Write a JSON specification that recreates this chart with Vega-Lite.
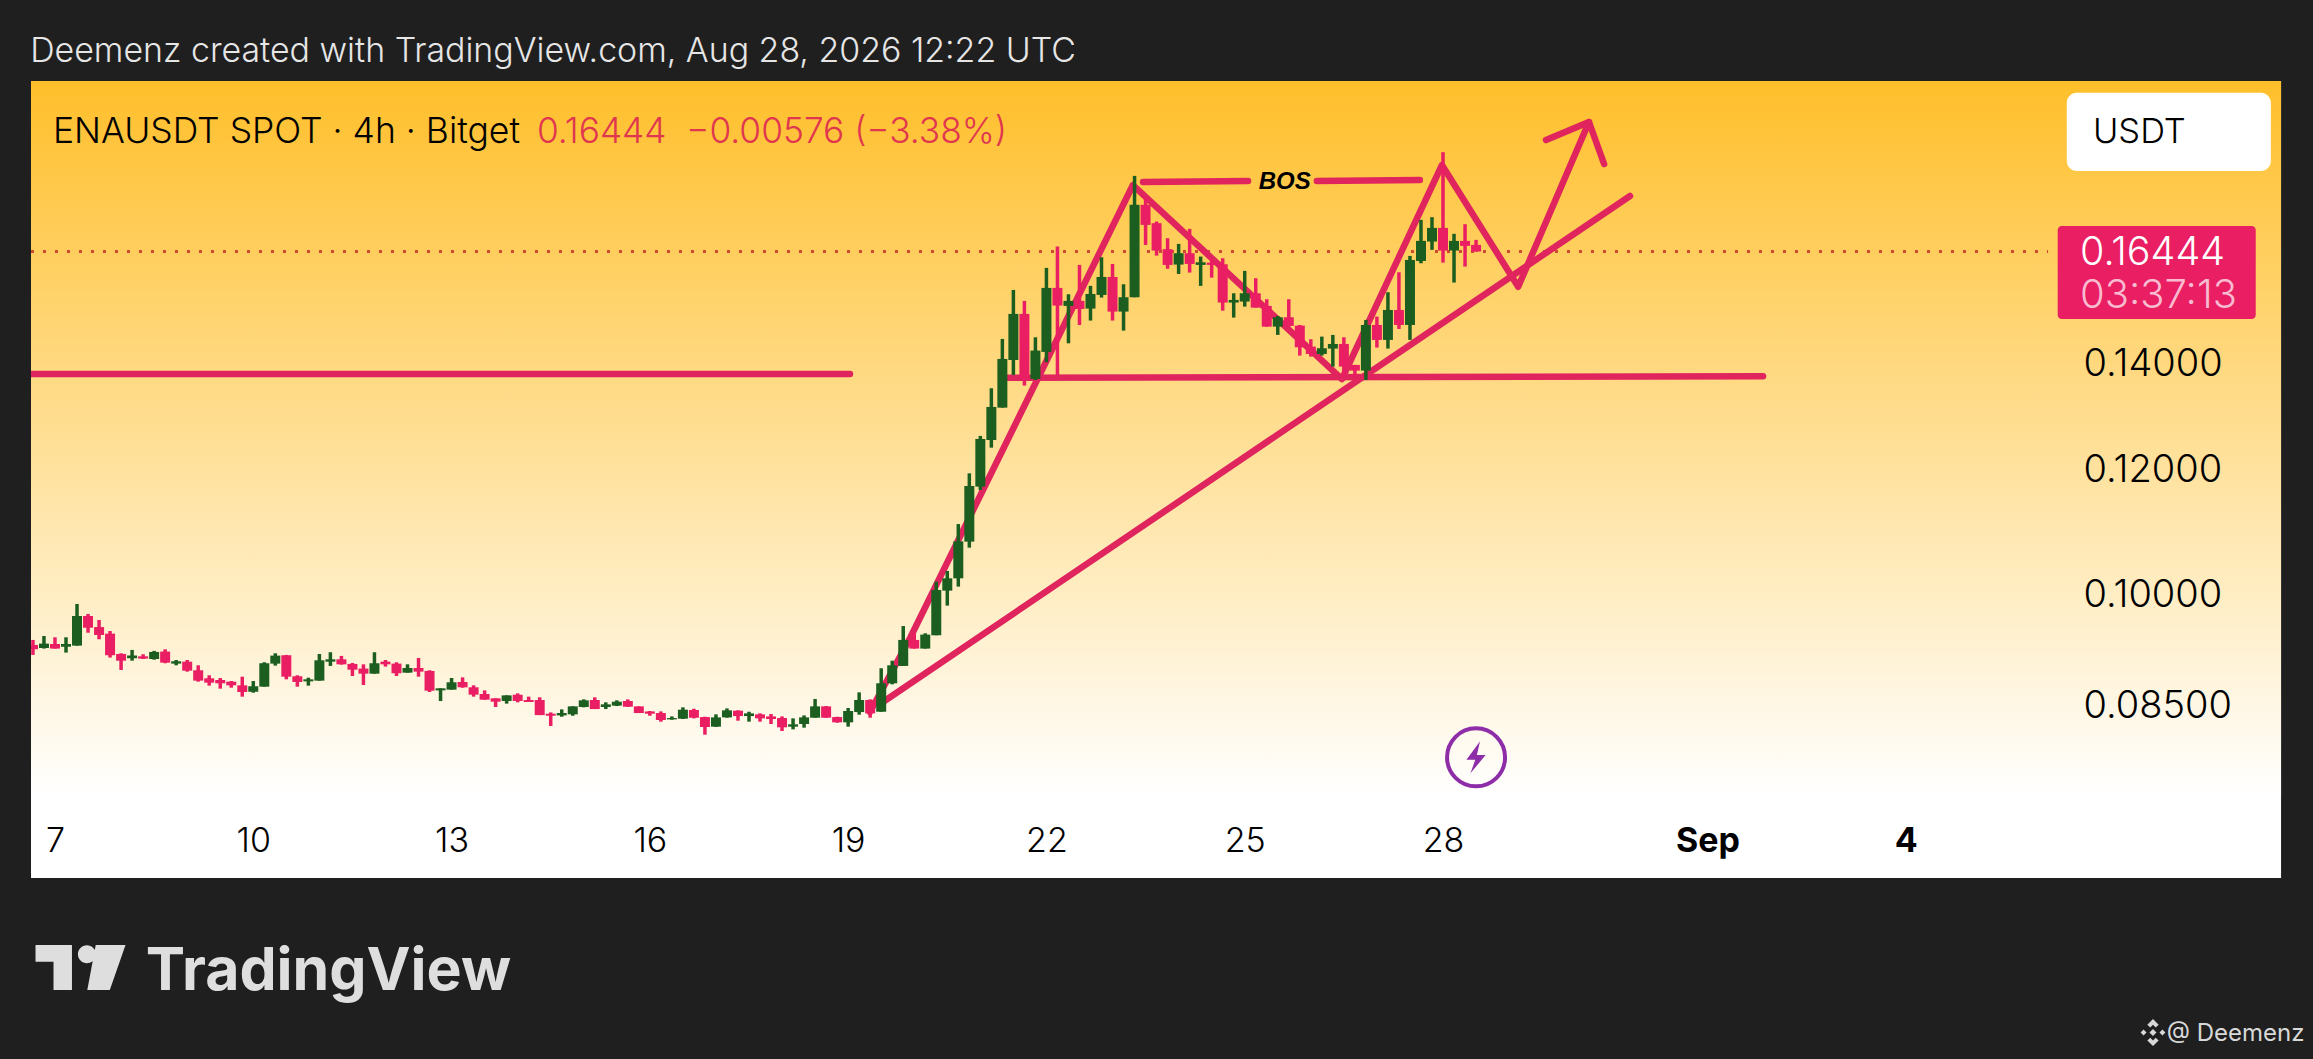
{
  "$schema": "https://vega.github.io/schema/vega-lite/v6.json",
  "width": 2313,
  "height": 1059,
  "padding": 0,
  "autosize": "none",
  "background": "#1f1f1f",
  "config": {"view": {"stroke": null}, "font": "Inter"},
  "datasets": {
    "panels": [
      {"kind": "panel", "time": "2026-08-06T15:17:00Z", "time2": "2026-09-09T16:18:00Z", "price": 0.21089, "price2": 0.06591},
      {"kind": "glow", "time": "2026-08-06T15:17:00Z", "time2": "2026-09-09T16:18:00Z", "price": 0.21089, "price2": 0.07439},
      {"kind": "edge", "time": "2026-08-06T04:00:00Z", "time2": "2026-08-06T15:17:00Z", "price": 0.23737, "price2": 0.05061},
      {"kind": "currency", "time": "2026-09-06T10:30:00Z", "time2": "2026-09-09T12:36:00Z", "price": 0.20733, "price2": 0.18494},
      {"kind": "last", "time": "2026-09-06T07:12:00Z", "time2": "2026-09-09T07:06:00Z", "price": 0.17068, "price2": 0.14901}
    ],
    "gridlines": [
      {"time": "2026-08-07T00:00:00Z"}, {"time": "2026-08-10T00:00:00Z"}, {"time": "2026-08-13T00:00:00Z"},
      {"time": "2026-08-16T00:00:00Z"}, {"time": "2026-08-19T00:00:00Z"}, {"time": "2026-08-22T00:00:00Z"},
      {"time": "2026-08-25T00:00:00Z"}, {"time": "2026-08-28T00:00:00Z"}, {"time": "2026-09-01T00:00:00Z"},
      {"time": "2026-09-04T00:00:00Z"}
    ],
    "lastprice": [{"time": "2026-08-06T15:17:00Z", "time2": "2026-09-06T03:42:00Z", "price": 0.16444}],
    "drawings": [
      {"seg": "resistance", "step": 1, "time": "2026-08-06T15:17:00Z", "price": 0.13753},
      {"seg": "resistance", "step": 2, "time": "2026-08-19T00:40:00Z", "price": 0.13753},
      {"seg": "support", "step": 1, "time": "2026-08-21T09:42:00Z", "price": 0.13678},
      {"seg": "support", "step": 2, "time": "2026-09-01T20:12:00Z", "price": 0.13706},
      {"seg": "trend", "step": 1, "time": "2026-08-19T12:39:00Z", "price": 0.08521},
      {"seg": "trend", "step": 2, "time": "2026-08-30T19:54:00Z", "price": 0.17831},
      {"seg": "path", "step": 1, "time": "2026-08-19T07:54:00Z", "price": 0.08397},
      {"seg": "path", "step": 2, "time": "2026-08-19T22:30:00Z", "price": 0.09355},
      {"seg": "path", "step": 3, "time": "2026-08-21T20:36:00Z", "price": 0.13632},
      {"seg": "path", "step": 4, "time": "2026-08-23T07:24:00Z", "price": 0.1812},
      {"seg": "path", "step": 5, "time": "2026-08-26T11:18:00Z", "price": 0.13652},
      {"seg": "path", "step": 6, "time": "2026-08-27T23:36:00Z", "price": 0.18657},
      {"seg": "path", "step": 7, "time": "2026-08-29T03:18:00Z", "price": 0.15621},
      {"seg": "path", "step": 8, "time": "2026-08-30T05:00:00Z", "price": 0.19865},
      {"seg": "head", "step": 1, "time": "2026-08-29T13:24:00Z", "price": 0.1935},
      {"seg": "head", "step": 2, "time": "2026-08-30T05:00:00Z", "price": 0.19865},
      {"seg": "head", "step": 3, "time": "2026-08-30T10:30:00Z", "price": 0.18684},
      {"seg": "bos1", "step": 1, "time": "2026-08-23T11:06:00Z", "price": 0.18199},
      {"seg": "bos1", "step": 2, "time": "2026-08-25T01:12:00Z", "price": 0.18226},
      {"seg": "bos2", "step": 1, "time": "2026-08-26T02:12:00Z", "price": 0.18226},
      {"seg": "bos2", "step": 2, "time": "2026-08-27T15:36:00Z", "price": 0.18253}
    ],
    "labels": [
      {"kind": "head", "text": "Deemenz created with TradingView.com, Aug 28, 2026 12:22 UTC", "time": "2026-08-06T15:00:00Z", "price": 0.21692},
      {"kind": "symbol", "text": "ENAUSDT SPOT · 4h · Bitget", "time": "2026-08-06T23:15:00Z", "price": 0.19274},
      {"kind": "quote", "text": "0.16444\u00a0 −0.00576 (−3.38%)", "time": "2026-08-14T07:00:00Z", "price": 0.19274},
      {"kind": "bos", "text": "BOS", "time": "2026-08-25T14:30:00Z", "price": 0.18199},
      {"kind": "currency", "text": "USDT", "time": "2026-09-06T20:00:00Z", "price": 0.1954},
      {"kind": "lastprice", "text": "0.16444", "time": "2026-09-06T15:20:00Z", "price": 0.16408},
      {"kind": "countdown", "text": "03:37:13", "time": "2026-09-06T15:20:00Z", "price": 0.154},
      {"kind": "brand", "text": "TradingView", "time": "2026-08-08T09:00:00Z", "price": 0.05597},
      {"kind": "author", "text": "@ Deemenz", "time": "2026-09-10T00:48:00Z", "price": 0.05197}
    ],
    "badges": [
      {"kind": "logo", "time": "2026-08-07T09:16:00Z", "price": 0.05784},
      {"kind": "binance", "time": "2026-09-07T17:48:00Z", "price": 0.0526},
      {"kind": "bolt", "time": "2026-08-28T12:00:00Z", "price": 0.0786}
    ],
    "candles": [
      {"time":"2026-08-06T16:00:00Z","open":0.09261,"high":0.09329,"low":0.09127,"close":0.09203},
      {"time":"2026-08-06T20:00:00Z","open":0.0922,"high":0.09383,"low":0.09212,"close":0.09279},
      {"time":"2026-08-07T00:00:00Z","open":0.09274,"high":0.09365,"low":0.09212,"close":0.09212},
      {"time":"2026-08-07T04:00:00Z","open":0.09238,"high":0.09365,"low":0.09158,"close":0.09274},
      {"time":"2026-08-07T08:00:00Z","open":0.09252,"high":0.09832,"low":0.09252,"close":0.09661},
      {"time":"2026-08-07T12:00:00Z","open":0.09661,"high":0.0969,"low":0.09428,"close":0.09497},
      {"time":"2026-08-07T16:00:00Z","open":0.09506,"high":0.09605,"low":0.09338,"close":0.09397},
      {"time":"2026-08-07T20:00:00Z","open":0.09415,"high":0.09451,"low":0.09092,"close":0.09123},
      {"time":"2026-08-08T00:00:00Z","open":0.0914,"high":0.09149,"low":0.08929,"close":0.09051},
      {"time":"2026-08-08T04:00:00Z","open":0.09082,"high":0.09194,"low":0.09051,"close":0.09118},
      {"time":"2026-08-08T08:00:00Z","open":0.09109,"high":0.09136,"low":0.09073,"close":0.09078},
      {"time":"2026-08-08T12:00:00Z","open":0.09073,"high":0.09181,"low":0.09064,"close":0.09167},
      {"time":"2026-08-08T16:00:00Z","open":0.09172,"high":0.09203,"low":0.09017,"close":0.09025},
      {"time":"2026-08-08T20:00:00Z","open":0.09012,"high":0.0906,"low":0.0899,"close":0.09043},
      {"time":"2026-08-09T00:00:00Z","open":0.09038,"high":0.0906,"low":0.08907,"close":0.0892},
      {"time":"2026-08-09T04:00:00Z","open":0.08925,"high":0.0899,"low":0.08778,"close":0.08791},
      {"time":"2026-08-09T08:00:00Z","open":0.08821,"high":0.0886,"low":0.08727,"close":0.08765},
      {"time":"2026-08-09T12:00:00Z","open":0.08799,"high":0.08825,"low":0.08689,"close":0.08757},
      {"time":"2026-08-09T16:00:00Z","open":0.08778,"high":0.08786,"low":0.08701,"close":0.08731},
      {"time":"2026-08-09T20:00:00Z","open":0.08731,"high":0.08842,"low":0.08588,"close":0.08646},
      {"time":"2026-08-10T00:00:00Z","open":0.0865,"high":0.08786,"low":0.08638,"close":0.08718},
      {"time":"2026-08-10T04:00:00Z","open":0.08714,"high":0.0903,"low":0.08714,"close":0.09017},
      {"time":"2026-08-10T08:00:00Z","open":0.09012,"high":0.09149,"low":0.08986,"close":0.09118},
      {"time":"2026-08-10T12:00:00Z","open":0.09123,"high":0.09127,"low":0.08808,"close":0.08842},
      {"time":"2026-08-10T16:00:00Z","open":0.08847,"high":0.0886,"low":0.08714,"close":0.08774},
      {"time":"2026-08-10T20:00:00Z","open":0.08782,"high":0.08829,"low":0.08727,"close":0.08808},
      {"time":"2026-08-11T00:00:00Z","open":0.08791,"high":0.0914,"low":0.08791,"close":0.09056},
      {"time":"2026-08-11T04:00:00Z","open":0.09038,"high":0.09163,"low":0.08982,"close":0.09069},
      {"time":"2026-08-11T08:00:00Z","open":0.09069,"high":0.09114,"low":0.08999,"close":0.09003},
      {"time":"2026-08-11T12:00:00Z","open":0.09008,"high":0.09021,"low":0.08851,"close":0.08933},
      {"time":"2026-08-11T16:00:00Z","open":0.08947,"high":0.09003,"low":0.08735,"close":0.08881},
      {"time":"2026-08-11T20:00:00Z","open":0.08881,"high":0.09163,"low":0.08881,"close":0.09017},
      {"time":"2026-08-12T00:00:00Z","open":0.09038,"high":0.0906,"low":0.08973,"close":0.09003},
      {"time":"2026-08-12T04:00:00Z","open":0.09012,"high":0.0903,"low":0.08851,"close":0.08886},
      {"time":"2026-08-12T08:00:00Z","open":0.08894,"high":0.09003,"low":0.08894,"close":0.08955},
      {"time":"2026-08-12T12:00:00Z","open":0.08955,"high":0.09087,"low":0.08842,"close":0.08907},
      {"time":"2026-08-12T16:00:00Z","open":0.08916,"high":0.08925,"low":0.08646,"close":0.08663},
      {"time":"2026-08-12T20:00:00Z","open":0.08667,"high":0.08693,"low":0.08533,"close":0.08693},
      {"time":"2026-08-13T00:00:00Z","open":0.08676,"high":0.08825,"low":0.08676,"close":0.0877},
      {"time":"2026-08-13T04:00:00Z","open":0.08774,"high":0.08833,"low":0.08701,"close":0.08706},
      {"time":"2026-08-13T08:00:00Z","open":0.08706,"high":0.08731,"low":0.08588,"close":0.08613},
      {"time":"2026-08-13T12:00:00Z","open":0.08621,"high":0.08667,"low":0.0855,"close":0.0855},
      {"time":"2026-08-13T16:00:00Z","open":0.08567,"high":0.08567,"low":0.08459,"close":0.08525},
      {"time":"2026-08-13T20:00:00Z","open":0.08534,"high":0.08604,"low":0.08501,"close":0.08604},
      {"time":"2026-08-14T00:00:00Z","open":0.08612,"high":0.08629,"low":0.08517,"close":0.08534},
      {"time":"2026-08-14T04:00:00Z","open":0.08546,"high":0.08588,"low":0.08521,"close":0.08521},
      {"time":"2026-08-14T08:00:00Z","open":0.08546,"high":0.0858,"low":0.0836,"close":0.0836},
      {"time":"2026-08-14T12:00:00Z","open":0.08377,"high":0.08393,"low":0.08228,"close":0.08352},
      {"time":"2026-08-14T16:00:00Z","open":0.08356,"high":0.0843,"low":0.0834,"close":0.08385},
      {"time":"2026-08-14T20:00:00Z","open":0.08369,"high":0.08467,"low":0.08352,"close":0.08467},
      {"time":"2026-08-15T00:00:00Z","open":0.08459,"high":0.08554,"low":0.08455,"close":0.08542},
      {"time":"2026-08-15T04:00:00Z","open":0.08546,"high":0.0858,"low":0.08434,"close":0.08434},
      {"time":"2026-08-15T08:00:00Z","open":0.08459,"high":0.08517,"low":0.08434,"close":0.08492},
      {"time":"2026-08-15T12:00:00Z","open":0.08476,"high":0.08542,"low":0.08471,"close":0.08525},
      {"time":"2026-08-15T16:00:00Z","open":0.08534,"high":0.08554,"low":0.08459,"close":0.08463},
      {"time":"2026-08-15T20:00:00Z","open":0.08467,"high":0.08467,"low":0.08385,"close":0.08385},
      {"time":"2026-08-16T00:00:00Z","open":0.08405,"high":0.0841,"low":0.08352,"close":0.08377},
      {"time":"2026-08-16T04:00:00Z","open":0.08385,"high":0.08405,"low":0.0828,"close":0.083},
      {"time":"2026-08-16T08:00:00Z","open":0.08308,"high":0.08344,"low":0.08304,"close":0.08324},
      {"time":"2026-08-16T12:00:00Z","open":0.08316,"high":0.08455,"low":0.08312,"close":0.08426},
      {"time":"2026-08-16T16:00:00Z","open":0.08422,"high":0.08438,"low":0.0832,"close":0.08328},
      {"time":"2026-08-16T20:00:00Z","open":0.08336,"high":0.0834,"low":0.08124,"close":0.08216},
      {"time":"2026-08-17T00:00:00Z","open":0.0822,"high":0.08369,"low":0.08216,"close":0.08332},
      {"time":"2026-08-17T04:00:00Z","open":0.08332,"high":0.08442,"low":0.08328,"close":0.08418},
      {"time":"2026-08-17T08:00:00Z","open":0.08414,"high":0.08418,"low":0.08292,"close":0.08348},
      {"time":"2026-08-17T12:00:00Z","open":0.08348,"high":0.08401,"low":0.0828,"close":0.08381},
      {"time":"2026-08-17T16:00:00Z","open":0.08369,"high":0.08381,"low":0.0828,"close":0.0832},
      {"time":"2026-08-17T20:00:00Z","open":0.08344,"high":0.08373,"low":0.08252,"close":0.08312},
      {"time":"2026-08-18T00:00:00Z","open":0.08324,"high":0.08344,"low":0.08168,"close":0.08212},
      {"time":"2026-08-18T04:00:00Z","open":0.0822,"high":0.0832,"low":0.08188,"close":0.08248},
      {"time":"2026-08-18T08:00:00Z","open":0.08252,"high":0.08356,"low":0.08208,"close":0.08332},
      {"time":"2026-08-18T12:00:00Z","open":0.08328,"high":0.08559,"low":0.08328,"close":0.08467},
      {"time":"2026-08-18T16:00:00Z","open":0.08467,"high":0.08471,"low":0.08328,"close":0.08328},
      {"time":"2026-08-18T20:00:00Z","open":0.08336,"high":0.0834,"low":0.08268,"close":0.08272},
      {"time":"2026-08-19T00:00:00Z","open":0.08272,"high":0.08447,"low":0.0822,"close":0.0841},
      {"time":"2026-08-19T04:00:00Z","open":0.08397,"high":0.08642,"low":0.08365,"close":0.08546},
      {"time":"2026-08-19T08:00:00Z","open":0.08546,"high":0.08554,"low":0.08328,"close":0.08381},
      {"time":"2026-08-19T12:00:00Z","open":0.08401,"high":0.08951,"low":0.08401,"close":0.08757},
      {"time":"2026-08-19T16:00:00Z","open":0.08757,"high":0.09051,"low":0.08744,"close":0.0899},
      {"time":"2026-08-19T20:00:00Z","open":0.08982,"high":0.0952,"low":0.08982,"close":0.09329},
      {"time":"2026-08-20T00:00:00Z","open":0.09329,"high":0.0942,"low":0.09212,"close":0.09212},
      {"time":"2026-08-20T04:00:00Z","open":0.09212,"high":0.0942,"low":0.09212,"close":0.09402},
      {"time":"2026-08-20T08:00:00Z","open":0.09393,"high":0.10157,"low":0.09393,"close":0.10035},
      {"time":"2026-08-20T12:00:00Z","open":0.10025,"high":0.10317,"low":0.09808,"close":0.10207},
      {"time":"2026-08-20T16:00:00Z","open":0.10207,"high":0.11048,"low":0.10084,"close":0.10773},
      {"time":"2026-08-20T20:00:00Z","open":0.10768,"high":0.11897,"low":0.10674,"close":0.11679},
      {"time":"2026-08-21T00:00:00Z","open":0.11668,"high":0.12564,"low":0.11611,"close":0.12509},
      {"time":"2026-08-21T04:00:00Z","open":0.1249,"high":0.13469,"low":0.12351,"close":0.13107},
      {"time":"2026-08-21T08:00:00Z","open":0.13094,"high":0.14475,"low":0.13094,"close":0.14058},
      {"time":"2026-08-21T12:00:00Z","open":0.14037,"high":0.15548,"low":0.13734,"close":0.15013},
      {"time":"2026-08-21T16:00:00Z","open":0.15013,"high":0.15301,"low":0.13522,"close":0.13667},
      {"time":"2026-08-21T20:00:00Z","open":0.13654,"high":0.1451,"low":0.13634,"close":0.14231},
      {"time":"2026-08-22T00:00:00Z","open":0.14203,"high":0.16056,"low":0.1399,"close":0.15594},
      {"time":"2026-08-22T04:00:00Z","open":0.15594,"high":0.16564,"low":0.13734,"close":0.15197},
      {"time":"2026-08-22T08:00:00Z","open":0.15189,"high":0.1545,"low":0.14383,"close":0.15301},
      {"time":"2026-08-22T12:00:00Z","open":0.15301,"high":0.16126,"low":0.14773,"close":0.15122},
      {"time":"2026-08-22T16:00:00Z","open":0.1513,"high":0.1564,"low":0.14868,"close":0.15457},
      {"time":"2026-08-22T20:00:00Z","open":0.15435,"high":0.16307,"low":0.15375,"close":0.15845},
      {"time":"2026-08-23T00:00:00Z","open":0.15845,"high":0.16149,"low":0.14868,"close":0.15064},
      {"time":"2026-08-23T04:00:00Z","open":0.15064,"high":0.15677,"low":0.14652,"close":0.15383},
      {"time":"2026-08-23T08:00:00Z","open":0.15383,"high":0.18363,"low":0.15383,"close":0.17603},
      {"time":"2026-08-23T12:00:00Z","open":0.17603,"high":0.17775,"low":0.16604,"close":0.17096},
      {"time":"2026-08-23T16:00:00Z","open":0.17138,"high":0.1718,"low":0.16347,"close":0.16468},
      {"time":"2026-08-23T20:00:00Z","open":0.165,"high":0.16767,"low":0.16036,"close":0.16126},
      {"time":"2026-08-24T00:00:00Z","open":0.16134,"high":0.16628,"low":0.15915,"close":0.16403},
      {"time":"2026-08-24T04:00:00Z","open":0.16403,"high":0.16997,"low":0.15947,"close":0.16149},
      {"time":"2026-08-24T08:00:00Z","open":0.16126,"high":0.16323,"low":0.1564,"close":0.16188},
      {"time":"2026-08-24T12:00:00Z","open":0.1618,"high":0.16283,"low":0.1583,"close":0.16126},
      {"time":"2026-08-24T16:00:00Z","open":0.16141,"high":0.16283,"low":0.15085,"close":0.15264},
      {"time":"2026-08-24T20:00:00Z","open":0.15264,"high":0.15472,"low":0.14933,"close":0.15323},
      {"time":"2026-08-25T00:00:00Z","open":0.15286,"high":0.15986,"low":0.15174,"close":0.15472},
      {"time":"2026-08-25T04:00:00Z","open":0.15472,"high":0.15815,"low":0.15152,"close":0.15152},
      {"time":"2026-08-25T08:00:00Z","open":0.15189,"high":0.15338,"low":0.14737,"close":0.14737},
      {"time":"2026-08-25T12:00:00Z","open":0.14737,"high":0.14969,"low":0.1456,"close":0.1494},
      {"time":"2026-08-25T16:00:00Z","open":0.1494,"high":0.15338,"low":0.14737,"close":0.14752},
      {"time":"2026-08-25T20:00:00Z","open":0.14759,"high":0.14773,"low":0.14127,"close":0.143},
      {"time":"2026-08-26T00:00:00Z","open":0.14314,"high":0.14468,"low":0.14106,"close":0.14161},
      {"time":"2026-08-26T04:00:00Z","open":0.14161,"high":0.14524,"low":0.14127,"close":0.14279},
      {"time":"2026-08-26T08:00:00Z","open":0.14272,"high":0.1456,"low":0.13902,"close":0.14369},
      {"time":"2026-08-26T12:00:00Z","open":0.14369,"high":0.1451,"low":0.137,"close":0.13902},
      {"time":"2026-08-26T16:00:00Z","open":0.13936,"high":0.13936,"low":0.137,"close":0.13821},
      {"time":"2026-08-26T20:00:00Z","open":0.13821,"high":0.14882,"low":0.13634,"close":0.14773},
      {"time":"2026-08-27T00:00:00Z","open":0.14773,"high":0.14954,"low":0.14293,"close":0.14454},
      {"time":"2026-08-27T04:00:00Z","open":0.14454,"high":0.15495,"low":0.14272,"close":0.151},
      {"time":"2026-08-27T08:00:00Z","open":0.151,"high":0.15954,"low":0.14687,"close":0.14773},
      {"time":"2026-08-27T12:00:00Z","open":0.14773,"high":0.16339,"low":0.14454,"close":0.16243},
      {"time":"2026-08-27T16:00:00Z","open":0.1622,"high":0.17222,"low":0.16165,"close":0.16701},
      {"time":"2026-08-27T20:00:00Z","open":0.16685,"high":0.1729,"low":0.16484,"close":0.17021},
      {"time":"2026-08-28T00:00:00Z","open":0.17021,"high":0.1901,"low":0.1618,"close":0.16468},
      {"time":"2026-08-28T04:00:00Z","open":0.16468,"high":0.16874,"low":0.15716,"close":0.16701},
      {"time":"2026-08-28T08:00:00Z","open":0.16701,"high":0.17113,"low":0.16087,"close":0.1658},
      {"time":"2026-08-28T12:00:00Z","open":0.16604,"high":0.16726,"low":0.16444,"close":0.16444}
    ]
  },
  "encoding": {
    "x": {
      "field": "time", "type": "temporal", "title": null,
      "scale": {"type": "utc", "padding": 0, "domain": [{"year": 2026, "month": 8, "date": 6, "hours": 4, "minutes": 2, "utc": true}, {"year": 2026, "month": 9, "date": 10, "hours": 3, "minutes": 54, "utc": true}]},
      "axis": {
        "title": null, "orient": "bottom", "offset": -218, "domain": false, "ticks": false, "grid": false, "zindex": 1,
        "labelPadding": 0, "labelBaseline": "middle", "labelFont": "Inter", "labelFontSize": 34, "labelColor": "#000000",
        "labelOverlap": false, "labelFlush": false, "labelBound": false,
        "labelFontWeight": {"condition": {"test": "utcmonth(datum.value) == 8", "value": "bold"}, "value": 300},
        "values": [
          {"year": 2026, "month": 8, "date": 7, "utc": true}, {"year": 2026, "month": 8, "date": 10, "utc": true},
          {"year": 2026, "month": 8, "date": 13, "utc": true}, {"year": 2026, "month": 8, "date": 16, "utc": true},
          {"year": 2026, "month": 8, "date": 19, "utc": true}, {"year": 2026, "month": 8, "date": 22, "utc": true},
          {"year": 2026, "month": 8, "date": 25, "utc": true}, {"year": 2026, "month": 8, "date": 28, "utc": true},
          {"year": 2026, "month": 9, "date": 1, "utc": true}, {"year": 2026, "month": 9, "date": 4, "utc": true}
        ],
        "labelExpr": "utcmonth(datum.value) == 8 && utcdate(datum.value) == 1 ? 'Sep' : '' + utcdate(datum.value)"
      }
    },
    "y": {
      "field": "price", "type": "quantitative", "title": null,
      "scale": {"type": "log", "domain": [0.05061, 0.23737], "nice": false, "zero": false},
      "axis": {
        "title": null, "orient": "right", "offset": -230, "domain": false, "ticks": false, "grid": false, "zindex": 1,
        "labelPadding": 0, "labelOffset": 3, "labelAlign": "left", "labelFont": "Inter", "labelFontSize": 38, "labelFontWeight": 300, "labelColor": "#000000",
        "labelOverlap": false, "labelBound": false, "labelFlush": false,
        "values": [0.14, 0.12, 0.1, 0.085], "format": ".5f"
      }
    }
  },
  "layer": [
    {
      "data": {"name": "panels"},
      "transform": [{"filter": "datum.kind == 'panel'"}],
      "mark": {"type": "rect", "fill": "#ffffff"},
      "encoding": {"x2": {"field": "time2"}, "y2": {"field": "price2"}}
    },
    {
      "data": {"name": "panels"},
      "transform": [{"filter": "datum.kind == 'glow'"}],
      "mark": {
        "type": "rect",
        "fill": {"gradient": "linear", "x1": 0, "y1": 0, "x2": 0, "y2": 1, "stops": [{"offset": 0, "color": "#ffbf2b"}, {"offset": 1, "color": "#ffffff"}]}
      },
      "encoding": {"x2": {"field": "time2"}, "y2": {"field": "price2"}}
    },
    {
      "data": {"name": "gridlines"},
      "mark": {"type": "rule", "stroke": "#b8860b", "strokeOpacity": 0.08, "strokeWidth": 2},
      "encoding": {"y": {"datum": 0.21089, "title": null}, "y2": {"datum": 0.07439}}
    },
    {
      "data": {"name": "lastprice"},
      "mark": {"type": "rule", "stroke": "#cf4a32", "strokeWidth": 3, "strokeDash": [3, 9]},
      "encoding": {"x2": {"field": "time2"}}
    },
    {
      "data": {"name": "drawings"},
      "mark": {"type": "line", "stroke": "#e0245e", "strokeWidth": 6.5, "strokeCap": "round", "strokeJoin": "round"},
      "encoding": {"detail": {"field": "seg"}, "order": {"field": "step"}}
    },
    {
      "data": {"name": "candles"},
      "mark": {"type": "rule", "strokeWidth": 3.5},
      "encoding": {
        "y": {"field": "low", "type": "quantitative", "title": null},
        "y2": {"field": "high"},
        "color": {"condition": {"test": "datum.close >= datum.open", "value": "#1b5e20"}, "value": "#e91e63"}
      }
    },
    {
      "data": {"name": "candles"},
      "mark": {"type": "bar", "size": 10, "orient": "vertical"},
      "encoding": {
        "y": {"field": "open", "type": "quantitative", "title": null},
        "y2": {"field": "close"},
        "color": {"condition": {"test": "datum.close >= datum.open", "value": "#1b5e20"}, "value": "#e91e63"}
      }
    },
    {
      "data": {"name": "panels"},
      "transform": [{"filter": "datum.kind == 'edge'"}],
      "mark": {"type": "rect", "fill": "#1f1f1f"},
      "encoding": {"x2": {"field": "time2"}, "y2": {"field": "price2"}}
    },
    {
      "data": {"name": "panels"},
      "transform": [{"filter": "datum.kind == 'currency'"}],
      "mark": {"type": "rect", "fill": "#ffffff", "cornerRadius": 10},
      "encoding": {"x2": {"field": "time2"}, "y2": {"field": "price2"}}
    },
    {
      "data": {"name": "panels"},
      "transform": [{"filter": "datum.kind == 'last'"}],
      "mark": {"type": "rect", "fill": "#e91e63", "cornerRadius": 4},
      "encoding": {"x2": {"field": "time2"}, "y2": {"field": "price2"}}
    },
    {
      "data": {"name": "labels"},
      "transform": [{"filter": "datum.kind == 'head'"}],
      "mark": {"type": "text", "align": "left", "baseline": "alphabetic", "font": "Inter", "fontSize": 33.9, "fontWeight": 300, "color": "#e6e6e6"},
      "encoding": {"text": {"field": "text"}}
    },
    {
      "data": {"name": "labels"},
      "transform": [{"filter": "datum.kind == 'symbol'"}],
      "mark": {"type": "text", "align": "left", "baseline": "alphabetic", "font": "Inter", "fontSize": 35.5, "fontWeight": 300, "color": "#000000"},
      "encoding": {"text": {"field": "text"}}
    },
    {
      "data": {"name": "labels"},
      "transform": [{"filter": "datum.kind == 'quote'"}],
      "mark": {"type": "text", "align": "left", "baseline": "alphabetic", "font": "Inter", "fontSize": 35.3, "fontWeight": 300, "color": "#e0364f"},
      "encoding": {"text": {"field": "text"}}
    },
    {
      "data": {"name": "labels"},
      "transform": [{"filter": "datum.kind == 'bos'"}],
      "mark": {"type": "text", "align": "center", "baseline": "middle", "font": "Liberation Sans", "fontSize": 24, "fontWeight": "bold", "fontStyle": "italic", "color": "#000000"},
      "encoding": {"text": {"field": "text"}}
    },
    {
      "data": {"name": "labels"},
      "transform": [{"filter": "datum.kind == 'currency'"}],
      "mark": {"type": "text", "align": "left", "baseline": "middle", "font": "Inter", "fontSize": 34.5, "fontWeight": 300, "color": "#000000"},
      "encoding": {"text": {"field": "text"}}
    },
    {
      "data": {"name": "labels"},
      "transform": [{"filter": "datum.kind == 'lastprice'"}],
      "mark": {"type": "text", "align": "left", "baseline": "middle", "font": "Inter", "fontSize": 39.5, "fontWeight": 300, "color": "#ffffff"},
      "encoding": {"text": {"field": "text"}}
    },
    {
      "data": {"name": "labels"},
      "transform": [{"filter": "datum.kind == 'countdown'"}],
      "mark": {"type": "text", "align": "left", "baseline": "middle", "font": "Inter", "fontSize": 40, "fontWeight": 300, "color": "#f8bbd0"},
      "encoding": {"text": {"field": "text"}}
    },
    {
      "data": {"name": "labels"},
      "transform": [{"filter": "datum.kind == 'brand'"}],
      "mark": {"type": "text", "align": "left", "baseline": "alphabetic", "font": "Inter", "fontSize": 59, "fontWeight": "bold", "color": "#dedede"},
      "encoding": {"text": {"field": "text"}}
    },
    {
      "data": {"name": "labels"},
      "transform": [{"filter": "datum.kind == 'author'"}],
      "mark": {"type": "text", "align": "right", "baseline": "alphabetic", "font": "Inter", "fontSize": 24, "color": "#d8d8d8"},
      "encoding": {"text": {"field": "text"}}
    },
    {
      "data": {"name": "badges"},
      "transform": [{"filter": "datum.kind == 'logo'"}],
      "mark": {
        "type": "point", "filled": true, "fill": "#dedede", "opacity": 1, "size": 8100,
        "shape": "M-1,-.5 H-.19 V.5 H-.6 V-.13 H-1 Z M-.058,-.293 A.2,.2 0 1 1 .342,-.293 A.2,.2 0 1 1 -.058,-.293 Z M.338,-.5 H1 L.651,.5 H.151 Z"
      }
    },
    {
      "data": {"name": "badges"},
      "transform": [{"filter": "datum.kind == 'binance'"}],
      "mark": {
        "type": "point", "filled": true, "fill": "#d8d8d8", "opacity": 1, "size": 729,
        "shape": "M0,-1 L.42,-.58 L.2,-.38 L0,-.58 L-.2,-.38 L-.42,-.58 Z M0,-.26 L.26,0 L0,.26 L-.26,0 Z M-.7,-.22 L-.48,0 L-.7,.22 L-.92,0 Z M.7,-.22 L.92,0 L.7,.22 L.48,0 Z M0,1 L-.42,.58 L-.2,.38 L0,.58 L.2,.38 L.42,.58 Z"
      }
    },
    {
      "data": {"name": "badges"},
      "transform": [{"filter": "datum.kind == 'bolt'"}],
      "mark": {"type": "point", "shape": "circle", "filled": false, "stroke": "#8e2da8", "strokeWidth": 4, "opacity": 1, "size": 3364}
    },
    {
      "data": {"name": "badges"},
      "transform": [{"filter": "datum.kind == 'bolt'"}],
      "mark": {
        "type": "point", "filled": true, "fill": "#8e2da8", "opacity": 1, "size": 1024,
        "shape": "M.25,-1 L-.6,.15 H-.05 L-.35,1 L.6,-.15 H.05 Z"
      }
    }
  ]
}
